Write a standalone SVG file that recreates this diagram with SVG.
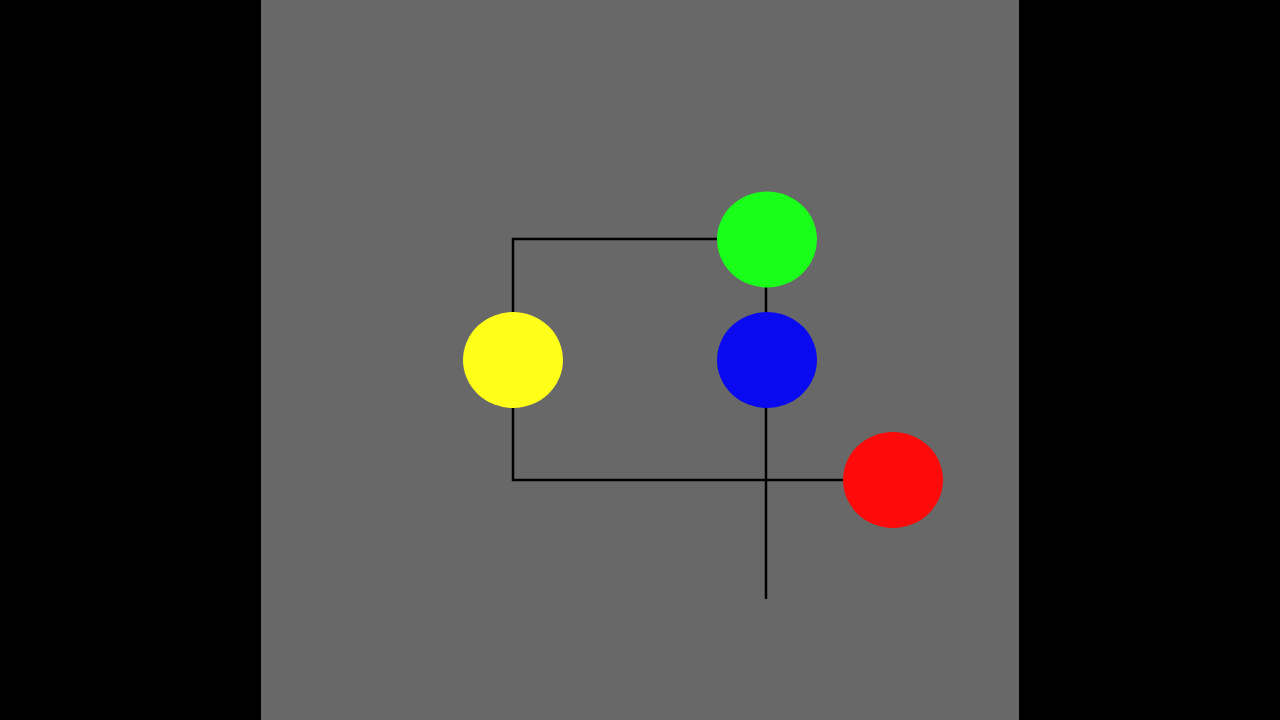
<svg xmlns="http://www.w3.org/2000/svg" width="1280" height="720" viewBox="0 0 1280 720">
<style>
.wire{fill:none;stroke:#000;stroke-width:2.5}
.node{stroke:none}
</style>
<rect x="0" y="0" width="1280" height="720" fill="#000"/>
<rect x="261" y="0" width="758" height="720" fill="#686868"/>
<g id="connectors">
<polyline class="wire" points="717,239 513,239 513,312"/>
<line class="wire" x1="766" y1="287" x2="766" y2="312"/>
<polyline class="wire" points="513,408 513,480 843,480"/>
<line class="wire" x1="766" y1="408" x2="766" y2="599"/>
</g>
<g id="green"><ellipse class="node" cx="767" cy="239.5" rx="50" ry="48" fill="#19ff19"/></g>
<g id="yellow"><ellipse class="node" cx="513" cy="360" rx="50" ry="48" fill="#ffff19"/></g>
<g id="blue"><ellipse class="node" cx="767" cy="360" rx="50" ry="48" fill="#0a0af0"/></g>
<g id="red"><ellipse class="node" cx="893" cy="480" rx="50" ry="48" fill="#ff0a0a"/></g>
</svg>
